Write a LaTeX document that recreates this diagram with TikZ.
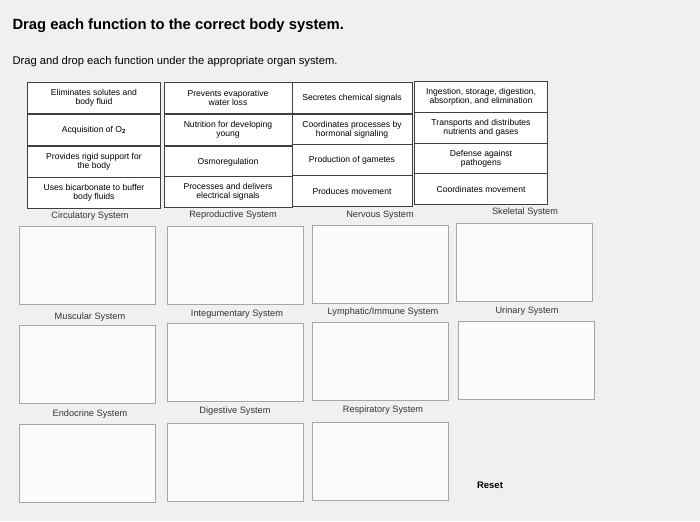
\documentclass[tikz,border=0pt]{standalone}
\usepackage{fontspec}
\setmainfont{Liberation Sans}
\begin{document}
\begin{tikzpicture}[x=1pt,y=-1pt,
 fn/.style={draw=black!75,line width=0.8pt,fill=white,minimum width=#1,minimum height=31,align=center,font=\fontsize{8.6}{9.5}\selectfont,inner sep=1pt},
 fn/.default=133,
 lab/.style={font=\fontsize{9.2}{10}\selectfont,text=black!80},
 drop/.style={draw=black!35,line width=0.6pt,fill=white!60!black!4,minimum width=136,minimum height=78,inner sep=0}]
\fill[black!6] (0,0) rectangle (700,521);
\useasboundingbox (0,0) rectangle (700,521);
\node[anchor=west,font=\bfseries\fontsize{14.8}{17}\selectfont] (t) at (9,26) {Drag each function to the correct body system.};
\node[anchor=west,font=\fontsize{11.2}{13}\selectfont] (s) at (9,62) {Drag and drop each function under the appropriate organ system.};
% grid
\node[fn] (a1) at (94,98) {Eliminates solutes and\\body fluid};
\node[fn=128] (a2) at (228,98) {Prevents evaporative\\water loss};
\node[fn=120] (a3) at (352,98) {Secretes chemical signals};
\node[fn] (a4) at (481,97) {Ingestion, storage, digestion,\\absorption, and elimination};
\node[fn] (b1) at (94,130) {Acquisition of O$_\mathbf{2}$};
\node[fn=128] (b2) at (228,130) {Nutrition for developing\\young};
\node[fn=120] (b3) at (352,130) {Coordinates processes by\\hormonal signaling};
\node[fn] (b4) at (481,128) {Transports and distributes\\nutrients and gases};
\node[fn] (c1) at (94,162) {Provides rigid support for\\the body};
\node[fn=128] (c2) at (228,162) {Osmoregulation};
\node[fn=120] (c3) at (352,160) {Production of gametes};
\node[fn] (c4) at (481,159) {Defense against\\pathogens};
\node[fn] (d1) at (94,193) {Uses bicarbonate to buffer\\body fluids};
\node[fn=128] (d2) at (228,192) {Processes and delivers\\electrical signals};
\node[fn=120] (d3) at (352,191) {Produces movement};
\node[fn] (d4) at (481,189) {Coordinates movement};
% labels and drop boxes
\node[lab] (l1) at (90,216) {Circulatory System};
\node[lab] (l2) at (233,215) {Reproductive System};
\node[lab] (l3) at (380,215) {Nervous System};
\node[lab] (l4) at (525,212) {Skeletal System};
\node[drop] (p1) at (87,265) {};
\node[drop] (p2) at (235,265) {};
\node[drop] (p3) at (380,264) {};
\node[drop] (p4) at (524,262) {};
\node[lab] (m1) at (90,317) {Muscular System};
\node[lab] (m2) at (237,314) {Integumentary System};
\node[lab] (m3) at (383,312) {Lymphatic/Immune System};
\node[lab] (m4) at (527,311) {Urinary System};
\node[drop] (q1) at (87,364) {};
\node[drop] (q2) at (235,362) {};
\node[drop] (q3) at (380,361) {};
\node[drop] (q4) at (526,360) {};
\node[lab] (n1) at (90,414) {Endocrine System};
\node[lab] (n2) at (235,411) {Digestive System};
\node[lab] (n3) at (383,410) {Respiratory System};
\node[drop] (r1) at (87,463) {};
\node[drop] (r2) at (235,462) {};
\node[drop] (r3) at (380,461) {};
\node[font=\bfseries\fontsize{9.5}{11}\selectfont] (reset) at (490,485) {Reset};
\end{tikzpicture}
\end{document}
